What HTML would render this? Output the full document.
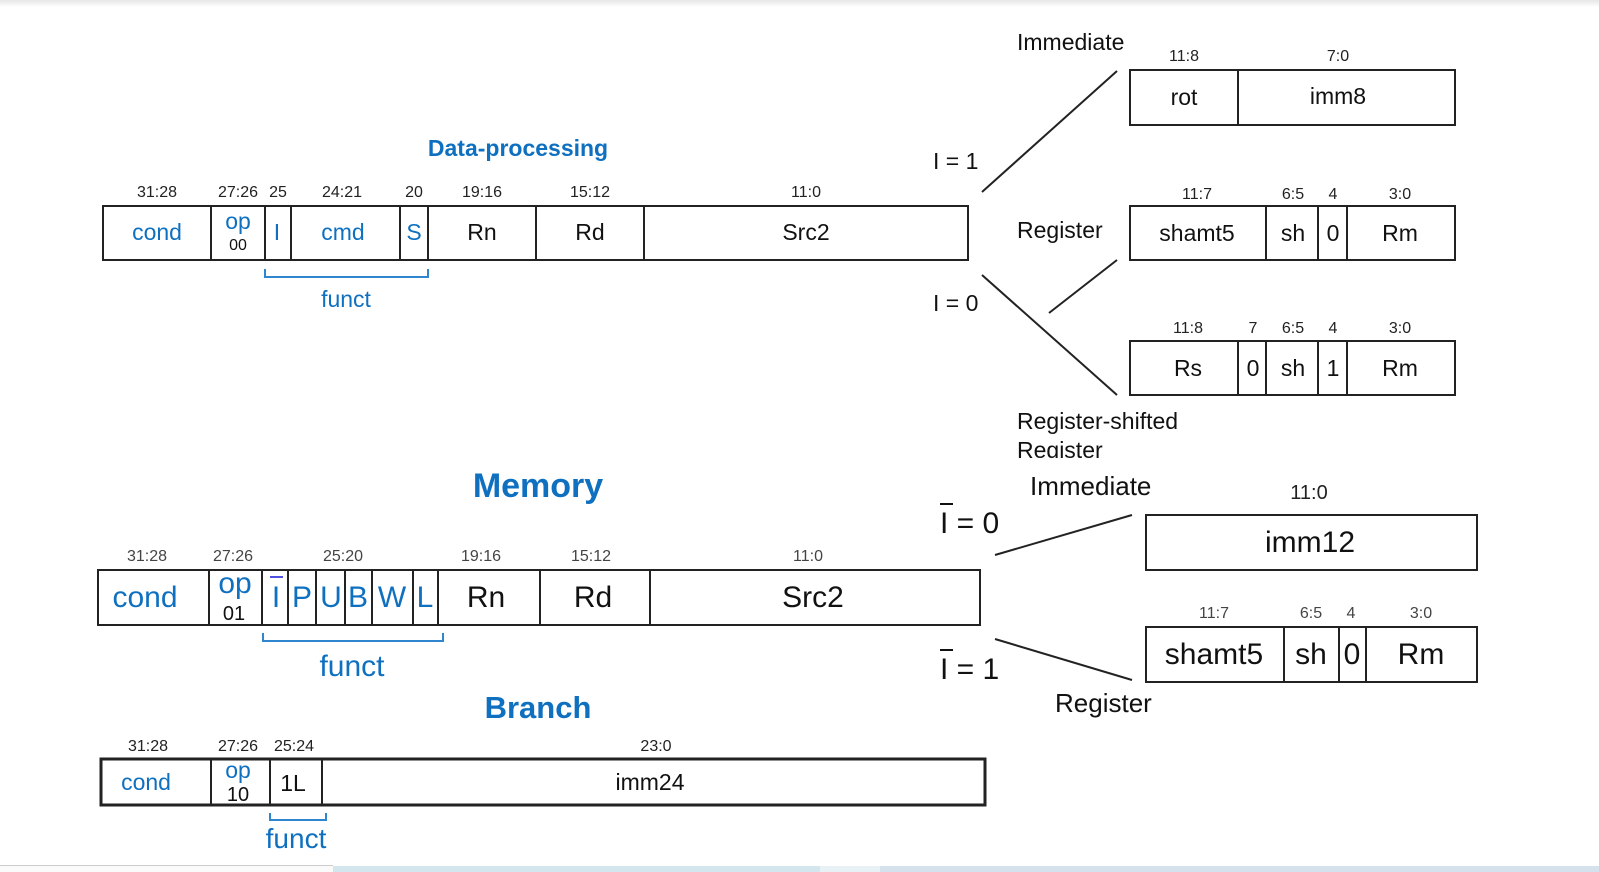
<!DOCTYPE html>
<html><head><meta charset="utf-8"><style>
html,body{margin:0;padding:0;background:#fff;}
svg{display:block;}
text{font-family:"Liberation Sans",Arial,sans-serif;}
</style></head><body>
<svg width="1599" height="872" viewBox="0 0 1599 872" xmlns="http://www.w3.org/2000/svg">
<defs><linearGradient id="tg" x1="0" y1="0" x2="0" y2="1"><stop offset="0" stop-color="#e6e6e6"/><stop offset="1" stop-color="#fff"/></linearGradient></defs>
<rect x="0" y="0" width="1599" height="7" fill="url(#tg)"/>
<g stroke="#222" fill="none" stroke-width="2">
<!-- Data processing -->
<rect x="103" y="206" width="865" height="54"/>
<path d="M211 206V260M265 206V260M291 206V260M400 206V260M428 206V260M536 206V260M644 206V260"/>
<!-- right top boxes -->
<rect x="1130" y="70" width="325" height="55"/>
<path d="M1238 70V125"/>
<rect x="1130" y="206" width="325" height="54"/>
<path d="M1266 206V260M1318 206V260M1347 206V260"/>
<rect x="1130" y="341" width="325" height="54"/>
<path d="M1238 341V395M1266 341V395M1318 341V395M1347 341V395"/>
<path d="M982 192L1117 71M1049 313L1117 260M982 275L1117 395" stroke-width="2"/>
<!-- Memory -->
<rect x="98" y="570" width="882" height="55"/>
<path d="M209 570V625M262 570V625M288 570V625M316 570V625M345 570V625M372 570V625M413 570V625M438 570V625M540 570V625M650 570V625"/>
<rect x="1146" y="515" width="331" height="55"/>
<rect x="1146" y="627" width="331" height="55"/>
<path d="M1284 627V682M1339 627V682M1366 627V682"/>
<path d="M995 555L1132 515M995 639L1132 680"/>
<!-- Branch -->
<rect x="101" y="759" width="884" height="46" stroke-width="3"/>
<path d="M211 759V805M270 759V805M322 759V805"/>
</g>
<g stroke="#2f86cf" fill="none" stroke-width="2">
<path d="M265 269V277H428V269"/>
<path d="M263 633V641H443V633"/>
<path d="M270 813V820H326V813"/>
</g>
<!-- titles -->
<g fill="#0f70c0" font-weight="bold" text-anchor="middle">
<text x="518" y="156" font-size="23">Data-processing</text>
<text x="538" y="497" font-size="34">Memory</text>
<text x="538" y="718" font-size="31">Branch</text>
</g>
<!-- DP bit labels -->
<g fill="#222" font-size="16" text-anchor="middle">
<text x="157" y="197">31:28</text><text x="238" y="197">27:26</text><text x="278" y="197">25</text>
<text x="342" y="197">24:21</text><text x="414" y="197">20</text><text x="482" y="197">19:16</text>
<text x="590" y="197">15:12</text><text x="806" y="197">11:0</text>
<text x="1184" y="61">11:8</text><text x="1338" y="61">7:0</text>
<text x="1197" y="199">11:7</text><text x="1293" y="199">6:5</text><text x="1333" y="199">4</text><text x="1400" y="199">3:0</text>
<text x="1188" y="333">11:8</text><text x="1253" y="333">7</text><text x="1293" y="333">6:5</text><text x="1333" y="333">4</text><text x="1400" y="333">3:0</text>
</g>
<g font-size="23" text-anchor="middle" fill="#0f70c0">
<text x="157" y="240">cond</text><text x="238" y="229">op</text><text x="277" y="240">I</text>
<text x="343" y="240">cmd</text><text x="414" y="240">S</text><text x="346" y="307">funct</text>
</g>
<g font-size="23" text-anchor="middle" fill="#111">
<text x="238" y="250" font-size="16">00</text>
<text x="482" y="240">Rn</text><text x="590" y="240">Rd</text><text x="806" y="240">Src2</text>
<text x="1184" y="105">rot</text><text x="1338" y="104">imm8</text>
<text x="1197" y="241">shamt5</text><text x="1293" y="241">sh</text><text x="1333" y="241">0</text><text x="1400" y="241">Rm</text>
<text x="1188" y="376">Rs</text><text x="1253" y="376">0</text><text x="1293" y="376">sh</text><text x="1333" y="376">1</text><text x="1400" y="376">Rm</text>
</g>
<g font-size="23" fill="#111">
<text x="1017" y="50">Immediate</text>
<text x="933" y="169">I = 1</text>
<text x="1017" y="238">Register</text>
<text x="933" y="311">I = 0</text>
<text x="1017" y="429">Register-shifted</text>
<svg x="1000" y="430" width="300" height="28" overflow="hidden"><text x="17" y="28" font-size="23" fill="#111">Register</text></svg>
</g>
<!-- Memory labels -->
<g fill="#444" font-size="16" text-anchor="middle">
<text x="147" y="561">31:28</text><text x="233" y="561">27:26</text><text x="343" y="561">25:20</text>
<text x="481" y="561">19:16</text><text x="591" y="561">15:12</text><text x="808" y="561">11:0</text>
<text x="1214" y="618">11:7</text><text x="1311" y="618">6:5</text><text x="1351" y="618">4</text><text x="1421" y="618">3:0</text>
</g>
<text x="1309" y="499" font-size="20" fill="#222" text-anchor="middle">11:0</text>
<g font-size="30" text-anchor="middle" fill="#0f70c0">
<text x="145" y="607">cond</text><text x="235" y="593">op</text>
<text x="276" y="607">I</text><text x="302" y="607">P</text><text x="331" y="607">U</text>
<text x="358" y="607">B</text><text x="392" y="607">W</text><text x="425" y="607">L</text>
<text x="352" y="676">funct</text>
</g>
<path d="M270 577H283" stroke="#5050e0" stroke-width="2"/>
<g font-size="30" text-anchor="middle" fill="#111">
<text x="234" y="620" font-size="20">01</text>
<text x="486" y="607">Rn</text><text x="593" y="607">Rd</text><text x="813" y="607">Src2</text>
<text x="1310" y="552">imm12</text>
<text x="1214" y="664">shamt5</text><text x="1311" y="664">sh</text><text x="1352" y="664">0</text><text x="1421" y="664">Rm</text>
</g>
<g font-size="26" fill="#111">
<text x="1030" y="495">Immediate</text>
<text x="1055" y="712">Register</text>
<text x="940" y="533" font-size="30">I = 0</text>
<text x="940" y="679" font-size="30">I = 1</text>
</g>
<path d="M940 504H953M940 650H953" stroke="#111" stroke-width="2"/>
<!-- Branch labels -->
<g fill="#222" font-size="16" text-anchor="middle">
<text x="148" y="751">31:28</text><text x="238" y="751">27:26</text><text x="294" y="751">25:24</text><text x="656" y="751">23:0</text>
</g>
<g font-size="23" text-anchor="middle">
<text x="146" y="790" fill="#0f70c0">cond</text>
<text x="238" y="778" fill="#0f70c0">op</text>
<text x="238" y="801" fill="#111" font-size="20">10</text>
<text x="293" y="791" fill="#111">1L</text>
<text x="650" y="790" fill="#111">imm24</text>
<text x="296" y="848" fill="#0f70c0" font-size="28">funct</text>
</g>
<!-- bottom strip -->
<rect x="0" y="866" width="333" height="6" fill="#fafafa"/>
<rect x="0" y="865" width="333" height="1" fill="#ccc"/>
<rect x="333" y="866" width="487" height="6" fill="#d3e6ee"/>
<rect x="820" y="866" width="60" height="6" fill="#e8f2f6"/>
<rect x="880" y="866" width="719" height="6" fill="#d5e2ee"/>
</svg>
</body></html>
